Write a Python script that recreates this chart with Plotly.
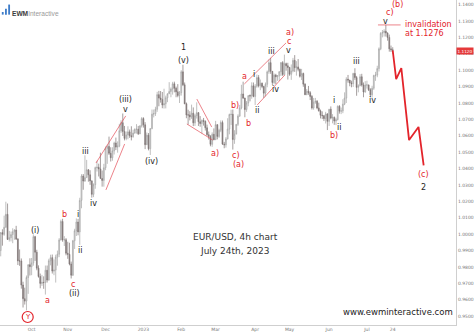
import pandas as pd
import plotly.graph_objects as go

# ---------------- price data (daily, read/estimated from the picture) ----------------
day_dates = pd.bdate_range("2022-09-07", "2023-07-24")
first_open = 0.9900
closes = [
    # Sep 2022
    1.0010, 0.9999, 1.0042, 1.0121, 0.9968, 0.9979, 0.9998, 1.0015, 1.0025, 0.9970, 0.9837, 0.9837, 0.9690, 0.9607, 0.9592, 0.9736, 0.9814, 0.9802,
    # Oct
    0.9825, 0.9985, 0.9890, 0.9793, 0.9742, 0.9700, 0.9706, 0.9705, 0.9780, 0.9720, 0.9838, 0.9857, 0.9775, 0.9781, 0.9860, 0.9878, 0.9965, 1.0078, 0.9965, 0.9966, 0.9884,
    # Nov
    0.9877, 0.9818, 0.9750, 0.9960, 1.0021, 1.0074, 1.0014, 1.0206, 1.0355, 1.0324, 1.0345, 1.0393, 1.0362, 1.0325, 1.0243, 1.0302, 1.0406, 1.0408, 1.0398, 1.0340, 1.0328, 1.0405,
    # Dec
    1.0522, 1.0535, 1.0493, 1.0466, 1.0508, 1.0556, 1.0531, 1.0537, 1.0631, 1.0680, 1.0626, 1.0584, 1.0605, 1.0624, 1.0600, 1.0595, 1.0617, 1.0640, 1.0640, 1.0612, 1.0660, 1.0705,
    # Jan 2023
    1.0667, 1.0546, 1.0604, 1.0521, 1.0644, 1.0732, 1.0735, 1.0762, 1.0851, 1.0830, 1.0822, 1.0788, 1.0795, 1.0832, 1.0856, 1.0870, 1.0885, 1.0917, 1.0890, 1.0868, 1.0846, 1.0863,
    # Feb
    1.0990, 1.0911, 1.0795, 1.0727, 1.0727, 1.0715, 1.0738, 1.0679, 1.0723, 1.0741, 1.0686, 1.0675, 1.0694, 1.0688, 1.0649, 1.0607, 1.0596, 1.0548, 1.0609, 1.0576,
    # Mar
    1.0668, 1.0596, 1.0634, 1.0681, 1.0549, 1.0545, 1.0581, 1.0641, 1.0730, 1.0731, 1.0577, 1.0610, 1.0670, 1.0720, 1.0770, 1.0855, 1.0830, 1.0760, 1.0800, 1.0845, 1.0843, 1.0905, 1.0840,
    # Apr
    1.0902, 1.0955, 1.0905, 1.0920, 1.0900, 1.0860, 1.0914, 1.0990, 1.1046, 1.0993, 1.0925, 1.0970, 1.0960, 1.0966, 1.0990, 1.1046, 1.0973, 1.1040, 1.1027, 1.1017,
    # May
    1.0975, 1.0995, 1.1060, 1.1015, 1.1020, 1.1005, 1.0963, 1.0980, 1.0915, 1.0850, 1.0872, 1.0863, 1.0840, 1.0770, 1.0805, 1.0810, 1.0770, 1.0752, 1.0725, 1.0723, 1.0705, 1.0733, 1.0688,
    # Jun
    1.0762, 1.0708, 1.0712, 1.0690, 1.0698, 1.0780, 1.0750, 1.0752, 1.0793, 1.0830, 1.0945, 1.0940, 1.0922, 1.0918, 1.0980, 1.0955, 1.0895, 1.0905, 1.0960, 1.0910, 1.0867, 1.0910,
    # Jul
    1.0910, 1.0880, 1.0850, 1.0890, 1.0968, 1.0970, 1.1010, 1.1130, 1.1225, 1.1230, 1.1238, 1.1227, 1.1200, 1.1130, 1.1125, 1.1120,
]
highs = [
    1.0012, 1.0030, 1.0113, 1.0198, 1.0187, 1.0020, 1.0016, 1.0036, 1.0030, 1.0051, 0.9976, 0.9907, 0.9852, 0.9710, 0.9674, 0.9748, 0.9815, 0.9853,
    0.9855, 0.9999, 0.9990, 0.9905, 0.9810, 0.9760, 0.9752, 0.9743, 0.9809, 0.9809, 0.9850, 0.9875, 0.9876, 0.9846, 0.9875, 0.9900, 0.9976, 1.0089, 1.0094, 0.9988, 0.9976,
    0.9954, 0.9948, 0.9833, 0.9965, 1.0033, 1.0096, 1.0093, 1.0222, 1.0366, 1.0367, 1.0481, 1.0453, 1.0397, 1.0390, 1.0328, 1.0310, 1.0412, 1.0448, 1.0430, 1.0497, 1.0388, 1.0429,
    1.0535, 1.0546, 1.0595, 1.0530, 1.0530, 1.0564, 1.0589, 1.0566, 1.0673, 1.0695, 1.0736, 1.0660, 1.0626, 1.0658, 1.0638, 1.0658, 1.0637, 1.0645, 1.0671, 1.0660, 1.0665, 1.0714,
    1.0713, 1.0683, 1.0620, 1.0617, 1.0647, 1.0760, 1.0760, 1.0777, 1.0868, 1.0874, 1.0873, 1.0867, 1.0887, 1.0845, 1.0858, 1.0927, 1.0895, 1.0929, 1.0930, 1.0900, 1.0915, 1.0873,
    1.1000, 1.1033, 1.0925, 1.0803, 1.0759, 1.0750, 1.0790, 1.0773, 1.0733, 1.0804, 1.0745, 1.0720, 1.0700, 1.0709, 1.0694, 1.0668, 1.0626, 1.0604, 1.0621, 1.0645,
    1.0691, 1.0670, 1.0643, 1.0694, 1.0693, 1.0563, 1.0592, 1.0707, 1.0735, 1.0759, 1.0760, 1.0634, 1.0669, 1.0731, 1.0788, 1.0911, 1.0930, 1.0832, 1.0812, 1.0846, 1.0852, 1.0926, 1.0925,
    1.0915, 1.0973, 1.0970, 1.0943, 1.0925, 1.0905, 1.0925, 1.0998, 1.1066, 1.1075, 1.0995, 1.0980, 1.0978, 1.0970, 1.0995, 1.1050, 1.1055, 1.1095, 1.1046, 1.1045,
    1.1020, 1.1035, 1.1075, 1.1092, 1.1055, 1.1068, 1.1010, 1.1008, 1.0985, 1.0920, 1.0885, 1.0904, 1.0872, 1.0848, 1.0830, 1.0831, 1.0818, 1.0802, 1.0760, 1.0749, 1.0723, 1.0746, 1.0738,
    1.0762, 1.0779, 1.0732, 1.0718, 1.0710, 1.0785, 1.0787, 1.0772, 1.0823, 1.0865, 1.0957, 1.0971, 1.0938, 1.0936, 1.0984, 1.1012, 1.0965, 1.0914, 1.0976, 1.0978, 1.0925, 1.0933,
    1.0936, 1.0912, 1.0890, 1.0905, 1.0972, 1.0990, 1.1027, 1.1139, 1.1232, 1.1245, 1.1250, 1.1276, 1.1230, 1.1217, 1.1150, 1.1140,
]
lows = [
    0.9865, 0.9930, 0.9990, 1.0040, 0.9965, 0.9955, 0.9956, 0.9945, 0.9966, 0.9965, 0.9812, 0.9807, 0.9668, 0.9553, 0.9571, 0.9535, 0.9636, 0.9748,
    0.9750, 0.9808, 0.9837, 0.9780, 0.9735, 0.9670, 0.9685, 0.9667, 0.9632, 0.9705, 0.9718, 0.9810, 0.9760, 0.9750, 0.9705, 0.9808, 0.9860, 0.9962, 0.9954, 0.9928, 0.9871,
    0.9850, 0.9810, 0.9730, 0.9746, 0.9910, 0.9989, 0.9993, 0.9935, 1.0158, 1.0271, 1.0320, 1.0350, 1.0320, 1.0301, 1.0223, 1.0226, 1.0277, 1.0382, 1.0352, 1.0338, 1.0290, 1.0290,
    1.0390, 1.0429, 1.0483, 1.0443, 1.0448, 1.0486, 1.0513, 1.0497, 1.0530, 1.0618, 1.0599, 1.0572, 1.0573, 1.0579, 1.0587, 1.0572, 1.0588, 1.0612, 1.0613, 1.0605, 1.0610, 1.0650,
    1.0650, 1.0519, 1.0545, 1.0511, 1.0483, 1.0640, 1.0712, 1.0721, 1.0746, 1.0780, 1.0802, 1.0768, 1.0766, 1.0767, 1.0805, 1.0855, 1.0835, 1.0851, 1.0865, 1.0835, 1.0835, 1.0800,
    1.0845, 1.0903, 1.0793, 1.0707, 1.0669, 1.0694, 1.0703, 1.0659, 1.0660, 1.0705, 1.0660, 1.0655, 1.0613, 1.0662, 1.0632, 1.0600, 1.0577, 1.0536, 1.0533, 1.0573,
    1.0575, 1.0578, 1.0587, 1.0622, 1.0546, 1.0524, 1.0528, 1.0578, 1.0609, 1.0666, 1.0516, 1.0551, 1.0612, 1.0660, 1.0716, 1.0761, 1.0825, 1.0713, 1.0746, 1.0780, 1.0810, 1.0826, 1.0835,
    1.0788, 1.0893, 1.0895, 1.0878, 1.0890, 1.0831, 1.0840, 1.0896, 1.0978, 1.0978, 1.0909, 1.0914, 1.0915, 1.0935, 1.0935, 1.0965, 1.0965, 1.0973, 1.0997, 1.0943,
    1.0966, 1.0941, 1.0987, 1.0990, 1.0967, 1.0993, 1.0955, 1.0940, 1.0899, 1.0850, 1.0850, 1.0850, 1.0818, 1.0760, 1.0759, 1.0795, 1.0762, 1.0748, 1.0706, 1.0702, 1.0690, 1.0675, 1.0635,
    1.0660, 1.0700, 1.0676, 1.0667, 1.0665, 1.0694, 1.0735, 1.0732, 1.0738, 1.0787, 1.0800, 1.0924, 1.0902, 1.0896, 1.0898, 1.0941, 1.0844, 1.0865, 1.0903, 1.0900, 1.0835, 1.0863,
    1.0888, 1.0873, 1.0834, 1.0833, 1.0880, 1.0935, 1.0957, 1.0992, 1.1122, 1.1200, 1.1205, 1.1205, 1.1180, 1.1113, 1.1111, 1.1100,
]

# ---------------- projected path (red) ----------------
proj_dates = ["2023-07-24", "2023-07-26", "2023-07-31", "2023-08-04 12:00", "2023-08-14", "2023-08-17"]
proj_prices = [1.1120, 1.0946, 1.1013, 1.0574, 1.0654, 1.0420]

# ---------------- wave labels ----------------
wave_text = ["(i)", "(ii)", "i", "ii", "iii", "iv", "(iii)", "v", "(iv)", "1", "(v)",
             "i", "ii", "iii", "iv", "v", "i", "ii", "iii", "iv", "v", "2"]
wave_date = ["2022-10-05", "2022-11-07", "2022-11-09", "2022-11-10", "2022-11-15 12:00", "2022-11-22",
             "2022-12-16 16:00", "2022-12-16 16:00", "2023-01-06 14:00", "2023-02-02 14:00", "2023-02-02 14:00",
             "2023-03-31 12:00", "2023-04-04 05:00", "2023-04-14 05:00", "2023-04-19 02:00", "2023-04-28 10:00",
             "2023-06-06", "2023-06-09", "2023-06-22 17:00", "2023-07-06 12:00", "2023-07-17 20:00", "2023-08-17"]
wave_price = [1.0020, 0.9641, 1.0123, 0.9898, 1.0507, 1.0190, 1.0824, 1.0760, 1.0446, 1.1140, 1.1060,
              1.0971, 1.0757, 1.1111, 1.0885, 1.1122, 1.0818, 1.0648, 1.1050, 1.0818, 1.1298, 1.0282]

red_text = ["a", "b", "c", "a)", "b)", "c)", "(a)", "a", "b", "c", "a)", "b)", "c)", "(b)", "(c)"]
red_date = ["2022-10-14 05:00", "2022-10-28", "2022-11-04 05:00", "2023-02-28 10:00", "2023-03-16 12:00",
            "2023-03-16 17:00", "2023-03-20 07:00", "2023-03-23 17:00", "2023-03-28", "2023-04-28 10:00",
            "2023-05-01 05:00", "2023-06-06", "2023-07-20 04:00", "2023-07-26 17:00", "2023-08-17"]
red_price = [0.9593, 1.0123, 0.9696, 1.0495, 1.0782, 1.0477, 1.0422, 1.0959, 1.0672, 1.1174, 1.1228,
             1.0599, 1.1350, 1.1398, 1.0361]

circle_date = ["2022-09-28 17:00"]
circle_price = [0.9495]
circle_text = ["Y"]

# ---------------- channel / wedge lines ----------------
line_d0 = ["2022-11-23 10:00", "2022-12-01 05:00", "2023-02-14 02:00", "2023-02-06 07:00", "2023-03-23 17:00", "2023-04-04 05:00"]
line_p0 = [1.0434, 1.0270, 1.0824, 1.0672, 1.0916, 1.0788]
line_d1 = ["2022-12-16 17:00", "2022-12-16 02:00", "2023-02-24 17:00", "2023-02-27 07:00", "2023-04-26 22:00", "2023-04-26 07:00"]
line_p1 = [1.0721, 1.0550, 1.0654, 1.0574, 1.1166, 1.0971]

invalid_dates = ["2023-07-11 10:00", "2023-07-28 14:00"]
invalid_level = 1.1276

tick_dates = ["2022-10-03", "2022-11-01", "2022-12-01", "2023-01-02", "2023-02-01", "2023-03-01",
              "2023-04-03", "2023-05-01", "2023-06-01", "2023-07-03", "2023-07-24"]
tick_text = ["Oct", "Nov", "Dec", "2023", "Feb", "Mar", "Apr", "May", "Jun", "Jul", "24"]

RED = "#e3242b"
LRED = "rgba(226,70,80,0.75)"
BLK = "#1e1e1e"
FONT = "DejaVu Sans"

n = min(len(day_dates), len(closes), len(highs), len(lows))
cl = closes[:n]
op = ([first_open] + closes[:-1])[:n]
hi = [max(h, o, c) for h, o, c in zip(highs[:n], op, cl)]
lo = [min(l, o, c) for l, o, c in zip(lows[:n], op, cl)]

fig = go.Figure()
fig.add_trace(go.Candlestick(
    x=day_dates[:n], open=op, high=hi, low=lo, close=cl,
    increasing=dict(line=dict(color="#a3a3a3", width=0.7), fillcolor="#e4e4e4"),
    decreasing=dict(line=dict(color="#7d7272", width=0.7), fillcolor="#857a7a"),
    whiskerwidth=0, showlegend=False, hoverinfo="skip"))

for d0, p0, d1, p1 in zip(line_d0, line_p0, line_d1, line_p1):
    fig.add_trace(go.Scatter(x=[d0, d1], y=[p0, p1], mode="lines",
                             line=dict(color=LRED, width=0.9), showlegend=False, hoverinfo="skip"))

fig.add_trace(go.Scatter(x=invalid_dates, y=[invalid_level] * 2, mode="lines",
                         line=dict(color=LRED, width=0.9), showlegend=False, hoverinfo="skip"))

fig.add_trace(go.Scatter(x=proj_dates, y=proj_prices, mode="lines",
                         line=dict(color=RED, width=1.8), showlegend=False, hoverinfo="skip"))

fig.add_trace(go.Scatter(x=circle_date, y=circle_price, mode="markers",
                         marker=dict(symbol="circle-open", size=11, color=RED, line=dict(width=1.2, color=RED)),
                         showlegend=False, hoverinfo="skip"))

annotations = []
for t, d, p in zip(wave_text, wave_date, wave_price):
    annotations.append(dict(x=d, y=p, xref="x", yref="y", text=t, showarrow=False,
                            font=dict(family=FONT, size=8, color=BLK)))
for t, d, p in zip(red_text, red_date, red_price):
    annotations.append(dict(x=d, y=p, xref="x", yref="y", text=t, showarrow=False,
                            font=dict(family=FONT, size=8, color=RED)))
for t, d, p in zip(circle_text, circle_date, circle_price):
    annotations.append(dict(x=d, y=p, xref="x", yref="y", text=t, showarrow=False,
                            font=dict(family=FONT, size=7, color=RED)))

annotations += [
    dict(x=invalid_dates[1], y=invalid_level, xref="x", yref="y", text="invalidation", showarrow=False,
         xanchor="left", xshift=2, font=dict(family=FONT, size=8, color=RED)),
    dict(x=invalid_dates[1], y=invalid_level, xref="x", yref="y", text="at 1.1276", showarrow=False,
         xanchor="left", xshift=2, yshift=-9, font=dict(family=FONT, size=8, color=RED)),
    dict(x=0.517, y=0.249, xref="paper", yref="paper", text="EUR/USD, 4h chart", showarrow=False,
         font=dict(family=FONT, size=9, color="#333")),
    dict(x=0.515, y=0.206, xref="paper", yref="paper", text="July 24th, 2023", showarrow=False,
         font=dict(family=FONT, size=9, color="#333")),
    dict(x=0.998, y=0.018, xref="paper", yref="paper", text="www.ewminteractive.com", showarrow=False,
         xanchor="right", font=dict(family=FONT, size=8.5, color="#222")),
    dict(x=0.022, y=0.975, xref="paper", yref="paper", xanchor="left",
         text="<b>EWM</b><span style='color:#9a9a9a'>Interactive</span>", showarrow=False,
         font=dict(family="Liberation Sans", size=6.6, color="#3a3a3a")),
    dict(x=1, y=cl[-1], xref="paper", yref="y", xanchor="left", text=f"{cl[-1]:.4f}", showarrow=False,
         bgcolor="#e5393a", borderpad=0.5, font=dict(family=FONT, size=4.2, color="white")),
]

# logo bars
shapes = []
for x0, x1, y0 in [(0.004, 0.008, 0.955), (0.011, 0.015, 0.965), (0.018, 0.022, 0.978)]:
    shapes.append(dict(type="rect", xref="paper", yref="paper", x0=x0, x1=x1, y0=0.955, y1=y0 + 0.008,
                       fillcolor="#3d7cc9", line=dict(width=0)))

fig.update_layout(
    width=474, height=333, autosize=False,
    margin=dict(l=0, r=13, t=0, b=8),
    paper_bgcolor="white", plot_bgcolor="white",
    showlegend=False, annotations=annotations, shapes=shapes,
    xaxis=dict(type="date", range=["2022-09-06 14:24", "2023-09-12 19:12"],
               rangebreaks=[dict(bounds=["sat", "mon"])],
               rangeslider=dict(visible=False),
               tickvals=tick_dates, ticktext=tick_text, tickfont=dict(family=FONT, size=4.5, color="#777"),
               showgrid=False, zeroline=False, showline=True, linecolor="#cfcfcf", linewidth=1, ticks=""),
    yaxis=dict(range=[0.94463, 1.1428], side="right", dtick=0.01, tick0=0.95, tickformat=".4f",
               tickfont=dict(family=FONT, size=4.5, color="#777"),
               showgrid=False, zeroline=False, showline=True, linecolor="#cfcfcf", linewidth=1, ticks=""),
)

fig.write_html("out.html")
